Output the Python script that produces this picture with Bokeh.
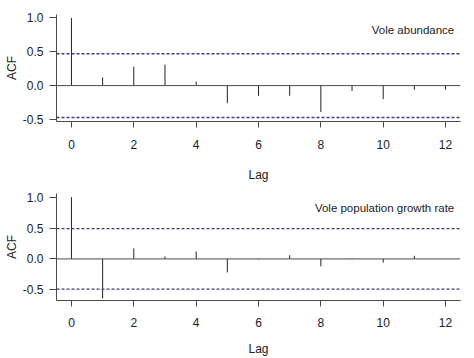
from bokeh.plotting import figure
from bokeh.models import Span, Label, FixedTicker, PrintfTickFormatter, Range1d
from bokeh.layouts import column
from bokeh.embed import file_html
from bokeh.resources import INLINE

lags = list(range(13))
acf_abundance = [1.0, 0.12, 0.28, 0.31, 0.06, -0.26, -0.15, -0.15, -0.39, -0.08, -0.20, -0.06, -0.06]
acf_growth = [1.0, -0.64, 0.17, 0.04, 0.12, -0.22, -0.01, 0.06, -0.12, 0.01, -0.06, 0.05, 0.0]
ci_abundance = 0.47
ci_growth = 0.49
x_ticks = [0, 2, 4, 6, 8, 10, 12]
y_ticks = [-0.5, 0.0, 0.5, 1.0]
titles = ["Vole abundance", "Vole population growth rate"]

FONT = "Liberation Sans"
TXT = "#222222"
AX = "#4a4a4a"
DASH = "#3c3c78"


def make_panel(acf, ci, title, yr, title_y, height, top, bottom, lab_so, lag_so):
    p = figure(width=474, height=height, output_backend="svg", toolbar_location=None,
               x_range=Range1d(-0.48, 12.48), y_range=Range1d(*yr),
               min_border_left=56, min_border_right=14, min_border_top=top,
               min_border_bottom=bottom)
    p.outline_line_color = None
    p.xgrid.visible = False
    p.ygrid.visible = False
    p.background_fill_color = "white"
    p.border_fill_color = "white"

    p.add_layout(Span(location=0, dimension="width", line_color=AX, line_width=1))
    p.add_layout(Span(location=ci, dimension="width", line_color=DASH, line_width=1.4,
                      line_dash="3 2"))
    p.add_layout(Span(location=-ci, dimension="width", line_color=DASH, line_width=1.4,
                      line_dash="3 2"))
    p.segment(x0=lags, y0=[0] * len(lags), x1=lags, y1=acf, line_color="#222222",
              line_width=1)

    p.add_layout(Label(x=12.28, y=title_y, text=title, text_align="right",
                       text_baseline="alphabetic", text_font=FONT,
                       text_font_size="11.5px", text_color=TXT))

    xa = p.xaxis[0]
    xa.ticker = FixedTicker(ticks=x_ticks)
    xa.axis_label = "Lag"
    ya = p.yaxis[0]
    ya.ticker = FixedTicker(ticks=y_ticks)
    ya.formatter = PrintfTickFormatter(format="%.1f")
    ya.axis_label = "ACF"
    for a in (xa, ya):
        a.axis_line_color = AX
        a.major_tick_line_color = AX
        a.minor_tick_line_color = None
        a.major_tick_in = 0
        a.major_label_text_font = FONT
        a.major_label_text_font_size = "12px"
        a.major_label_text_color = TXT
        a.axis_label_text_font = FONT
        a.axis_label_text_font_size = "12px"
        a.axis_label_text_font_style = "normal"
        a.axis_label_text_color = TXT
    xa.major_tick_out = 6
    xa.major_label_standoff = lab_so
    xa.axis_label_standoff = lag_so
    ya.major_tick_out = 7
    ya.major_label_standoff = 6
    ya.axis_label_standoff = 1
    return p


p1 = make_panel(acf_abundance, ci_abundance, titles[0], (-0.53, 1.05), 0.816,
                184, 14, 62, 12, 16)
p2 = make_panel(acf_growth, ci_growth, titles[1], (-0.674, 1.06), 0.827,
                174, 9, 57, 11, 12)

layout = column(p1, p2, spacing=0)
open("out.html", "w").write(file_html(layout, INLINE))
